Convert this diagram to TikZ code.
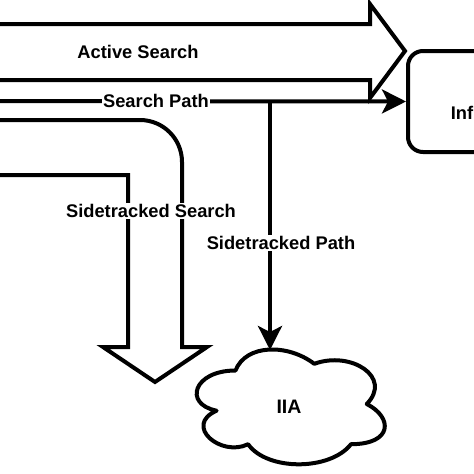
\documentclass[tikz,border=0pt]{standalone}
\usepackage{fontspec}
\setmainfont{Liberation Sans}
\usetikzlibrary{arrows.meta}
\tikzset{
  thick line/.style={line width=4pt, line join=miter},
  conn/.style={line width=4pt, -{Stealth[length=24pt, width=24pt, inset=6pt]}},
  lbl/.style={font=\fontsize{18.3}{20}\selectfont\bfseries, inner sep=1pt},
  lblw/.style={lbl, fill=white},
  infobox/.style={draw, line width=4pt, rounded corners=15pt, minimum width=112pt, minimum height=101pt, inner sep=0pt}
}
\begin{document}
\begin{tikzpicture}[x=1pt,y=-1pt]
\useasboundingbox (0,0) rectangle (474,474);
\clip (0,0) rectangle (474,474);
\fill[white] (0,0) rectangle (474,474);

% Active Search big arrow
\draw[thick line] (-10,24) -- (370,24) -- (370,4) -- (405,51) -- (370,98) -- (370,80) -- (-10,80);
\node[lbl] (active) at (138,52) {Active Search};

% Information box
\node[infobox] (info) at (464,101.5) {};
\node[lbl] (inftext) at (462,113) {Inf};

% Search path
\coordinate (spstart) at (-10,101);
\coordinate (branch) at (270,101);
\draw[conn] (spstart) -- (info.west);

% Sidetracked Search bent arrow
\draw[thick line] (-10,120) -- (140,120) .. controls (163.2,120) and (182,138.8) .. (182,162)
  -- (182,347) -- (207,347) -- (155,382) -- (103,347) -- (128,347) -- (128,175) -- (-10,175);

% Cloud
\draw[line width=4pt, line join=round] (235.5,370.5)
  .. controls (193.5,370.5) and (183,404) .. (216.6,410.7)
  .. controls (183,425.4) and (220.8,457.6) .. (248.1,444.2)
  .. controls (267,471) and (330,471) .. (351,444.2)
  .. controls (393,444.2) and (393,417.4) .. (366.75,404)
  .. controls (393,377.2) and (351,350.4) .. (314.25,363.8)
  .. controls (288,343.7) and (246,343.7) .. (235.5,370.5) -- cycle;
\coordinate (cloudtop) at (270,350);
\node[lbl, font=\fontsize{19.5}{21}\selectfont\bfseries] (iia) at (289,407) {IIA};

% Sidetracked path
\draw[conn] (branch) -- (cloudtop);

% Labels on lines
\node[lblw] (sp) at (156,101) {Search Path};
\node[lblw] (ss) at (151,211) {Sidetracked Search};
\node[lblw] (spath) at (281,243) {Sidetracked Path};
\end{tikzpicture}
\end{document}
